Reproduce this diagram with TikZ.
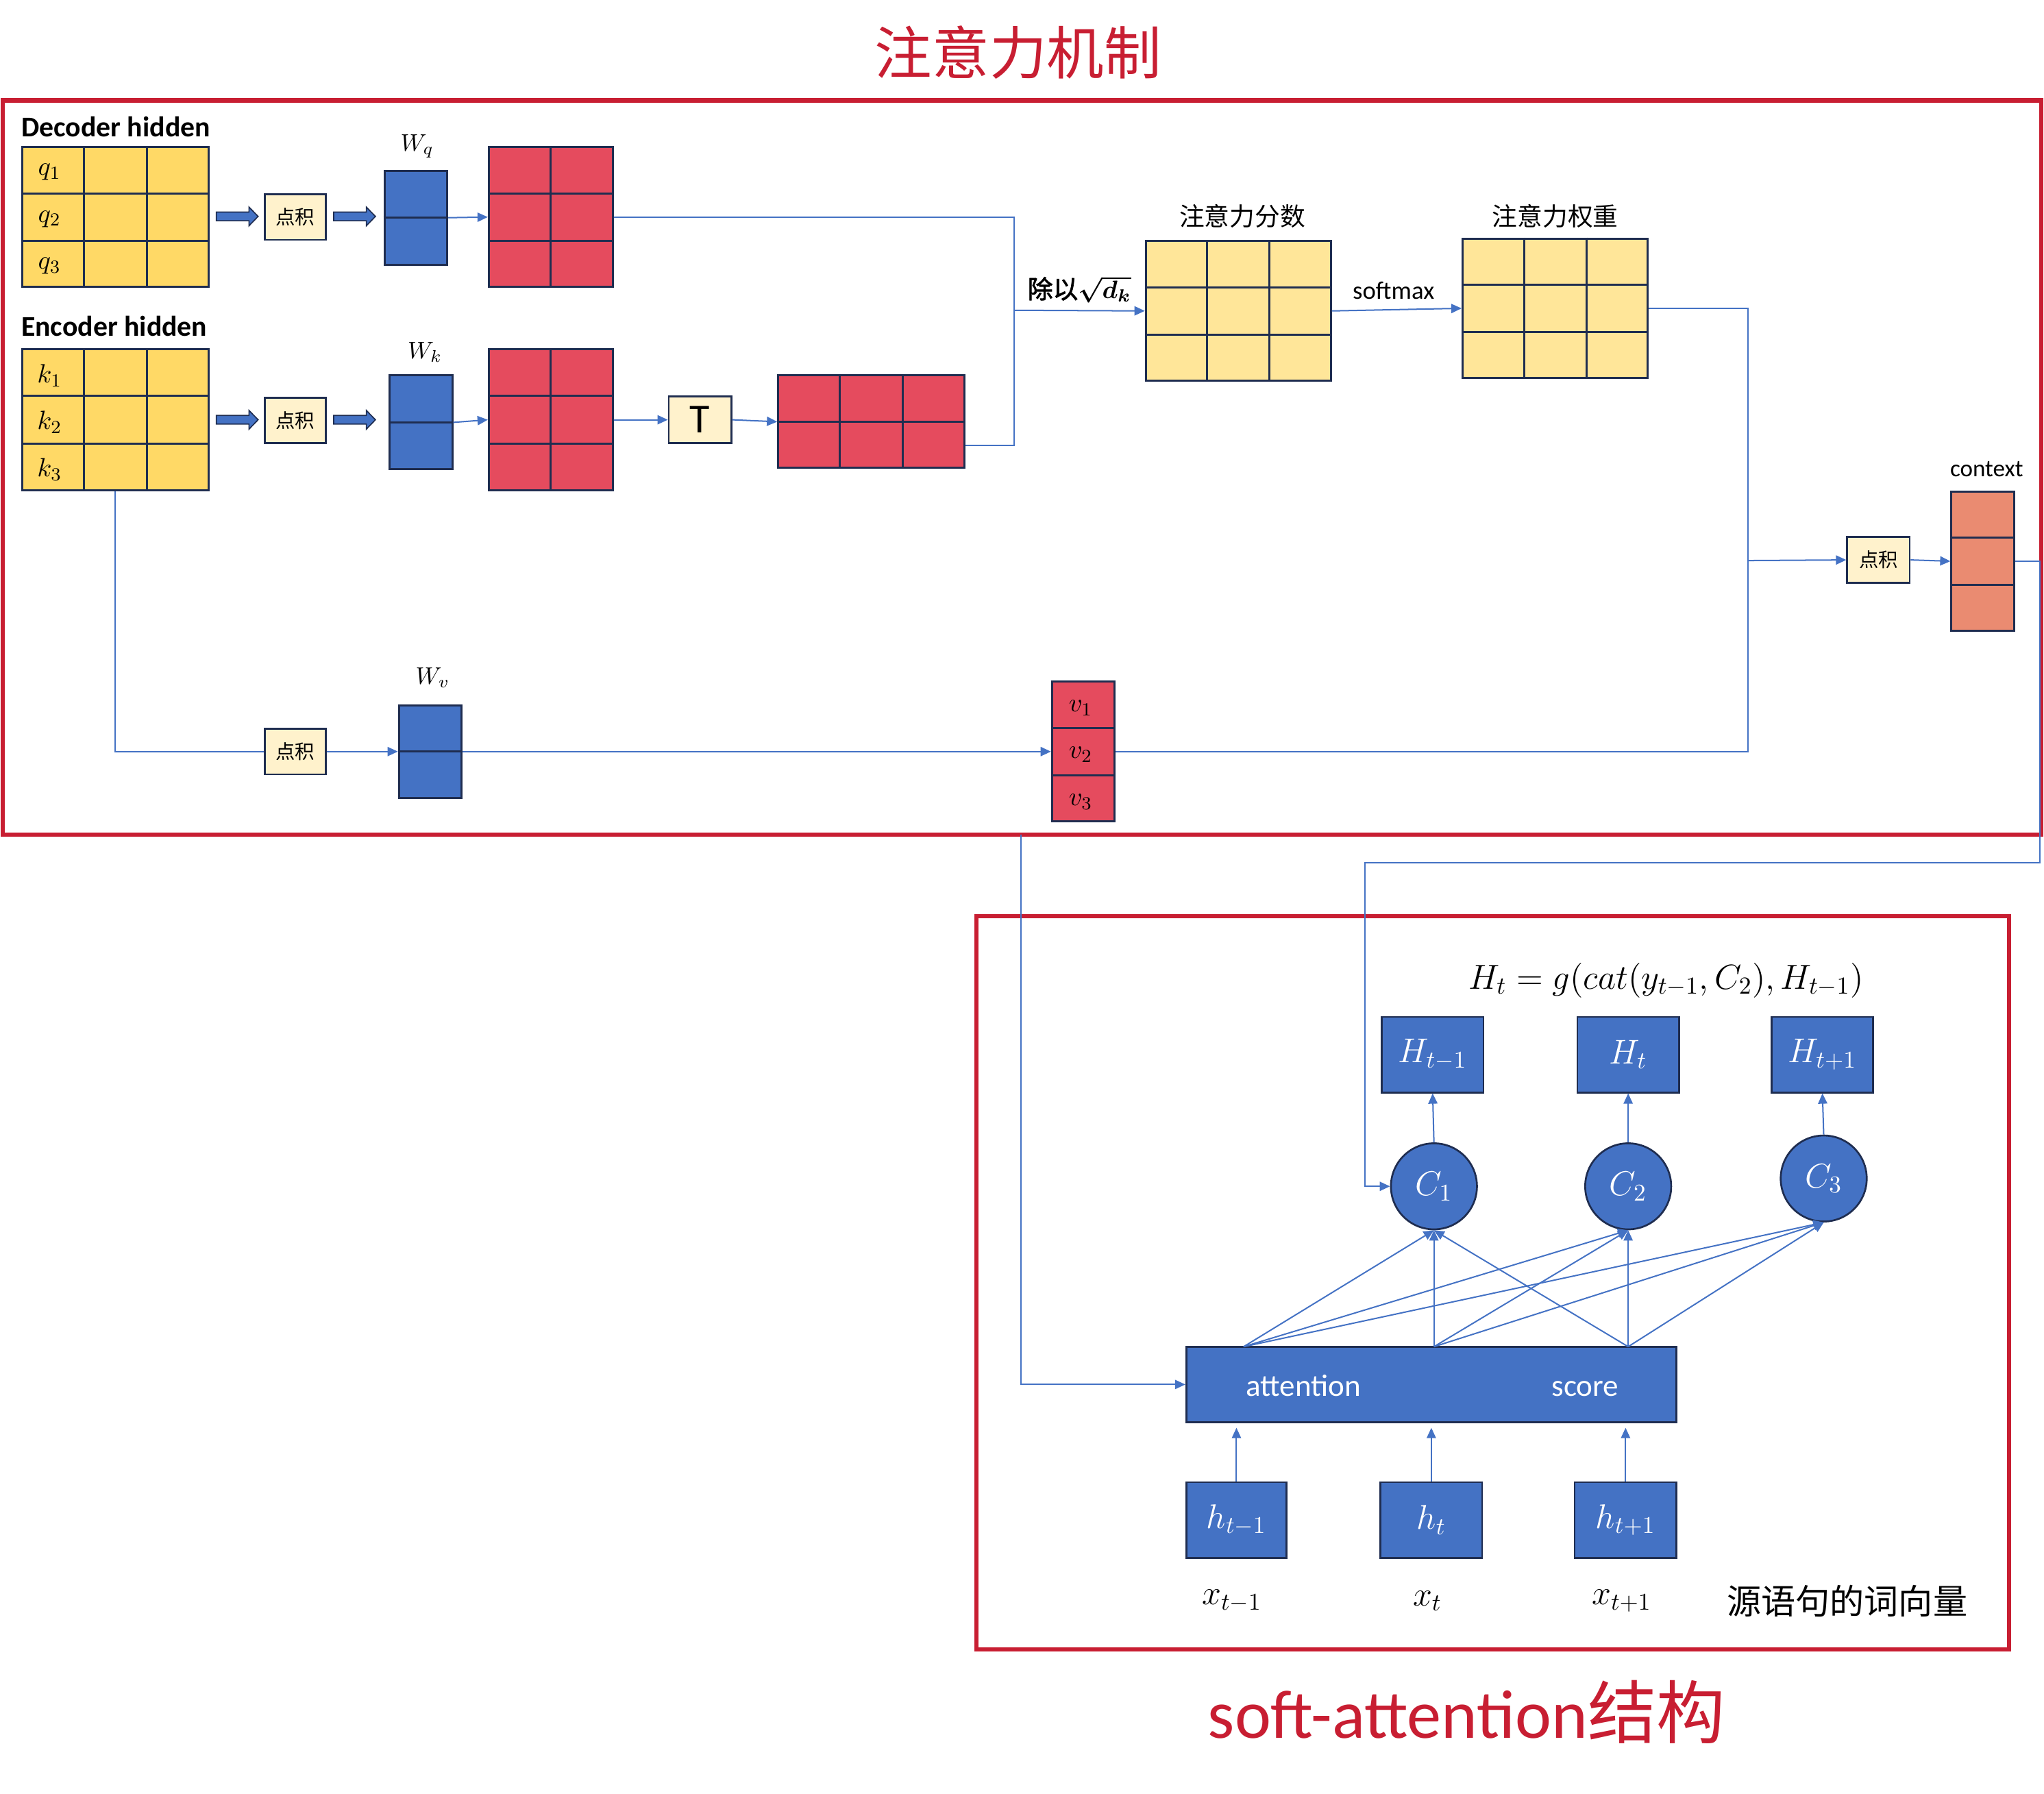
\documentclass[tikz,border=0pt]{standalone}
\usepackage{fix-cm}
\usepackage{fontspec}
\setmainfont{Carlito}
\newfontfamily\cjk{Noto Sans CJK SC}
\newfontfamily\cjkb{Noto Sans CJK SC}[FakeBold=2]
\usetikzlibrary{fit,calc,arrows.meta,shapes.geometric}
\definecolor{fred}{RGB}{200,30,50}
\definecolor{yel}{RGB}{255,217,102}
\definecolor{lyel}{RGB}{255,230,153}
\definecolor{rmat}{RGB}{229,75,94}
\definecolor{bl}{RGB}{68,114,196}
\definecolor{navy}{RGB}{31,45,80}
\definecolor{pale}{RGB}{255,242,204}
\definecolor{salmon}{RGB}{234,139,113}
\newcommand{\fs}[1]{\fontsize{#1}{#1}\selectfont}
\newcommand{\vl}[2]{\foreach \f in {#2}{\draw[gridln] ($(#1.north west)!\f!(#1.north east)$) -- ($(#1.south west)!\f!(#1.south east)$);}}
\newcommand{\hl}[2]{\foreach \f in {#2}{\draw[gridln] ($(#1.north west)!\f!(#1.south west)$) -- ($(#1.north east)!\f!(#1.south east)$);}}
% block arrow: start x, centre y
\newcommand{\barr}[2]{\draw[blockarr] (#1,#2-3.3) -- ++(25,0) -- ++(0,-3.9) -- (#1+32,#2) -- (#1+25,#2+7.2) -- ++(0,-3.9) -- (#1,#2+3.3) -- cycle;}
\tikzset{
  mat/.style={draw=navy, line width=0.9pt, inner sep=0pt},
  gridln/.style={draw=navy, line width=0.9pt},
  conn/.style={draw=bl, line width=0.6pt, -{Triangle[length=4.5pt,width=4pt]}},
  plain/.style={draw=bl, line width=0.6pt},
  dotbox/.style={draw=navy, fill=pale, line width=0.8pt, inner sep=0pt},
  dottxt/.style={font=\cjk\fs{8.5}, inner sep=0pt},
  blockarr/.style={draw=navy, fill=bl, line width=0.5pt, line join=miter},
  frame/.style={draw=fred, line width=1.8pt, inner sep=0pt},
  bbox/.style={draw=navy, fill=bl, line width=0.8pt, inner sep=0pt},
  wtxt/.style={text=white, font=\fs{15}, inner sep=0pt},
  boldlbl/.style={font=\bfseries\fs{12.5}, inner sep=0pt, anchor=west},
  mlbl/.style={font=\fs{11.5}, inner sep=0pt},
  wlbl/.style={font=\fs{10.5}, inner sep=0pt},
  cjklbl/.style={font=\cjk\fs{11}, inner sep=0pt},
  atxt/.style={inner sep=0pt, text=white, font=\fs{13.5}, anchor=base},
  xlbl/.style={inner sep=0pt, font=\fs{15}},
}
\begin{document}
\begin{tikzpicture}[x=0.02cm, y=-0.02cm]
\useasboundingbox (0,0) rectangle (1568,1376);
% titles and frames
\node[text=fred, font=\cjk\fs{25}, inner sep=0pt] (title1) at (781,40) {注意力机制};
\node[frame, fit={(2,77) (1566,640)}] (F1) {};
\node[frame, fit={(749,703) (1541,1265)}] (F2) {};
\node[text=fred, inner sep=0pt, font=\fs{30}] (title2) at (1125,1313) {soft-attention{\cjk 结构}};

% Decoder / query row
\node[boldlbl] (dh) at (16,97) {Decoder hidden};
\node[mat, fill=yel, fit={(17,113) (160,220)}] (Q) {};
\vl{Q}{1/3,2/3} \hl{Q}{1/3,2/3}
\node[mlbl] (q1) at (38,132) {$q_1$};
\node[mlbl] (q2) at (38,168) {$q_2$};
\node[mlbl] (q3) at (38,204) {$q_3$};
\barr{166}{166}
\node[dotbox, fit={(203,149) (250,184)}] (D1) {};
\node[dottxt] (D1t) at (D1) {点积};
\barr{256}{166}
\node[mat, fill=bl, fit={(295,131) (343,203)}] (Wq) {};
\hl{Wq}{0.5}
\node[wlbl] (wql) at (320,112) {$W_q$};
\node[mat, fill=rmat, fit={(375,113) (470,220)}] (R1) {};
\vl{R1}{0.5} \hl{R1}{1/3,2/3}
\draw[conn] (Wq.east) -- (R1.west);

% Encoder / key row
\node[boldlbl] (eh) at (16,250) {Encoder hidden};
\node[mat, fill=yel, fit={(17,268) (160,376)}] (K) {};
\vl{K}{1/3,2/3} \hl{K}{1/3,2/3}
\node[mlbl] (k1) at (38,288) {$k_1$};
\node[mlbl] (k2) at (38,324) {$k_2$};
\node[mlbl] (k3) at (38,360) {$k_3$};
\barr{166}{322}
\node[dotbox, fit={(203,305) (250,340)}] (D2) {};
\node[dottxt] (D2t) at (D2) {点积};
\barr{256}{322}
\node[mat, fill=bl, fit={(299,288) (347,360)}] (Wk) {};
\hl{Wk}{0.5}
\node[wlbl] (wkl) at (326,270) {$W_k$};
\node[mat, fill=rmat, fit={(375,268) (470,376)}] (R2) {};
\vl{R2}{0.5} \hl{R2}{1/3,2/3}
\node[dotbox, fit={(513,304) (561,340)}] (T) {};
\node[inner sep=0pt, font=\fs{18}] (Tt) at (T) {T};
\node[mat, fill=rmat, fit={(597,288) (740,359)}] (R3) {};
\vl{R3}{1/3,2/3} \hl{R3}{0.5}
\draw[conn] (Wk.east) -- (R2.west);
\draw[conn] (R2.east) -- (T.west);
\draw[conn] (T.east) -- (R3.west);

% scores
\node[mat, fill=lyel, fit={(879,185) (1021,292)}] (S) {};
\vl{S}{1/3,2/3} \hl{S}{1/3,2/3}
\node[cjklbl] (sl) at (953,166) {注意力分数};
\coordinate (J) at (778,238);
\draw[plain] (R1.east) -| (J);
\draw[plain] ($(R3.south east)!0.25!(R3.north east)$) -| (J);
\draw[conn] (J) -- (S.west);
\node[inner sep=0pt, font=\cjkb\fs{11}] (div) at (828,222) {除以{\boldmath$\sqrt{d_k}$}};
\node[inner sep=0pt, font=\fs{11}] (sm) at (1069,223) {softmax};
\node[mat, fill=lyel, fit={(1122,183) (1264,290)}] (Wt) {};
\vl{Wt}{1/3,2/3} \hl{Wt}{1/3,2/3}
\node[cjklbl] (wl) at (1193,166) {注意力权重};
\draw[conn] (S.east) -- (Wt.west);

% value row
\node[dotbox, fit={(203,559) (250,594)}] (D3) {};
\node[dottxt] (D3t) at (D3) {点积};
\node[mat, fill=bl, fit={(306,541) (354,612)}] (Wv) {};
\hl{Wv}{0.5}
\node[wlbl] (wvl) at (332,520) {$W_v$};
\node[mat, fill=rmat, fit={(807,523) (855,630)}] (V) {};
\hl{V}{1/3,2/3}
\node[mlbl] (v1) at (829,543) {$v_1$};
\node[mlbl] (v2) at (829,579) {$v_2$};
\node[mlbl] (v3) at (829,615) {$v_3$};
\draw[plain] (K.south) |- (D3.west);
\draw[conn] (D3.east) -- (Wv.west);
\draw[conn] (Wv.east) -- (V.west);

% context
\coordinate (J2) at (1341,430);
\node[dotbox, fit={(1417,412) (1465,447)}] (D4) {};
\node[dottxt] (D4t) at (D4) {点积};
\node[mat, fill=salmon, fit={(1497,377) (1545,484)}] (Ctx) {};
\hl{Ctx}{1/3,2/3}
\node[inner sep=0pt, font=\fs{10.5}] (ctxl) at (1524,360) {context};
\draw[plain] (Wt.east) -| (J2);
\draw[plain] (V.east) -| (J2);
\draw[conn] (J2) -- (D4.west);
\draw[conn] (D4.east) -- (Ctx.west);

% soft attention structure
\node[inner sep=0pt, font=\fs{15.2}] (eq) at (1278,752) {$H_t = g(cat(y_{t-1},C_2),H_{t-1})$};
\node[bbox, fit={(1060,780) (1138,838)}] (H1) {};
\node[wtxt] (H1t) at (H1) {$H_{t-1}$};
\node[bbox, fit={(1210,780) (1288,838)}] (H2) {};
\node[wtxt] (H2t) at (H2) {$H_{t}$};
\node[bbox, fit={(1359,780) (1437,838)}] (H3) {};
\node[wtxt] (H3t) at (H3) {$H_{t+1}$};
\node[bbox, circle, minimum size=1.32cm, text=white, font=\fs{15}] (C1) at (1100,910) {$C_1$};
\node[bbox, circle, minimum size=1.32cm, text=white, font=\fs{15}] (C2) at (1249,910) {$C_2$};
\node[bbox, circle, minimum size=1.32cm, text=white, font=\fs{15}] (C3) at (1399,904) {$C_3$};
\node[bbox, fit={(910,1033) (1286,1091)}] (Att) {};
\node[atxt] (attl) at (1000,1071) {attention};
\node[atxt] (scl) at (1216,1071) {score};
\node[bbox, fit={(910,1137) (987,1195)}] (h1) {};
\node[wtxt] (h1t) at (h1) {$h_{t-1}$};
\node[bbox, fit={(1059,1137) (1137,1195)}] (h2) {};
\node[wtxt] (h2t) at (h2) {$h_{t}$};
\node[bbox, fit={(1208,1137) (1286,1195)}] (h3) {};
\node[wtxt] (h3t) at (h3) {$h_{t+1}$};
\node[xlbl] (x1) at (945,1228) {$x_{t-1}$};
\node[xlbl] (x2) at (1095,1228) {$x_{t}$};
\node[xlbl] (x3) at (1244,1228) {$x_{t+1}$};
\node[inner sep=0pt, font=\cjk\fs{15}] (src) at (1417,1228) {源语句的词向量};

\draw[conn] (C1.north) -- (H1.south);
\draw[conn] (C2.north) -- (H2.south);
\draw[conn] (C3.north) -- (H3.south);
\coordinate (P1) at (954,1033);
\coordinate (P2) at (1100,1033);
\coordinate (P3) at (1249,1033);
\foreach \p in {P1,P2,P3}{
  \foreach \c in {C1,C2,C3}{
    \draw[conn] (\p) -- (\c.south);
  }
}
\draw[conn, shorten >=2pt] (h1.north) -- (h1.north |- Att.south);
\draw[conn, shorten >=2pt] (h2.north) -- (h2.north |- Att.south);
\draw[conn, shorten >=2pt] (h3.north) -- (h3.north |- Att.south);

\coordinate (A0) at (783,640);
\draw[conn] (A0) |- (Att.west);
\coordinate (K1) at (1565,662);
\coordinate (K2) at (1047,662);
\draw[conn] (Ctx.east) -| (K1) -- (K2) |- (C1.west);
\end{tikzpicture}
\end{document}
